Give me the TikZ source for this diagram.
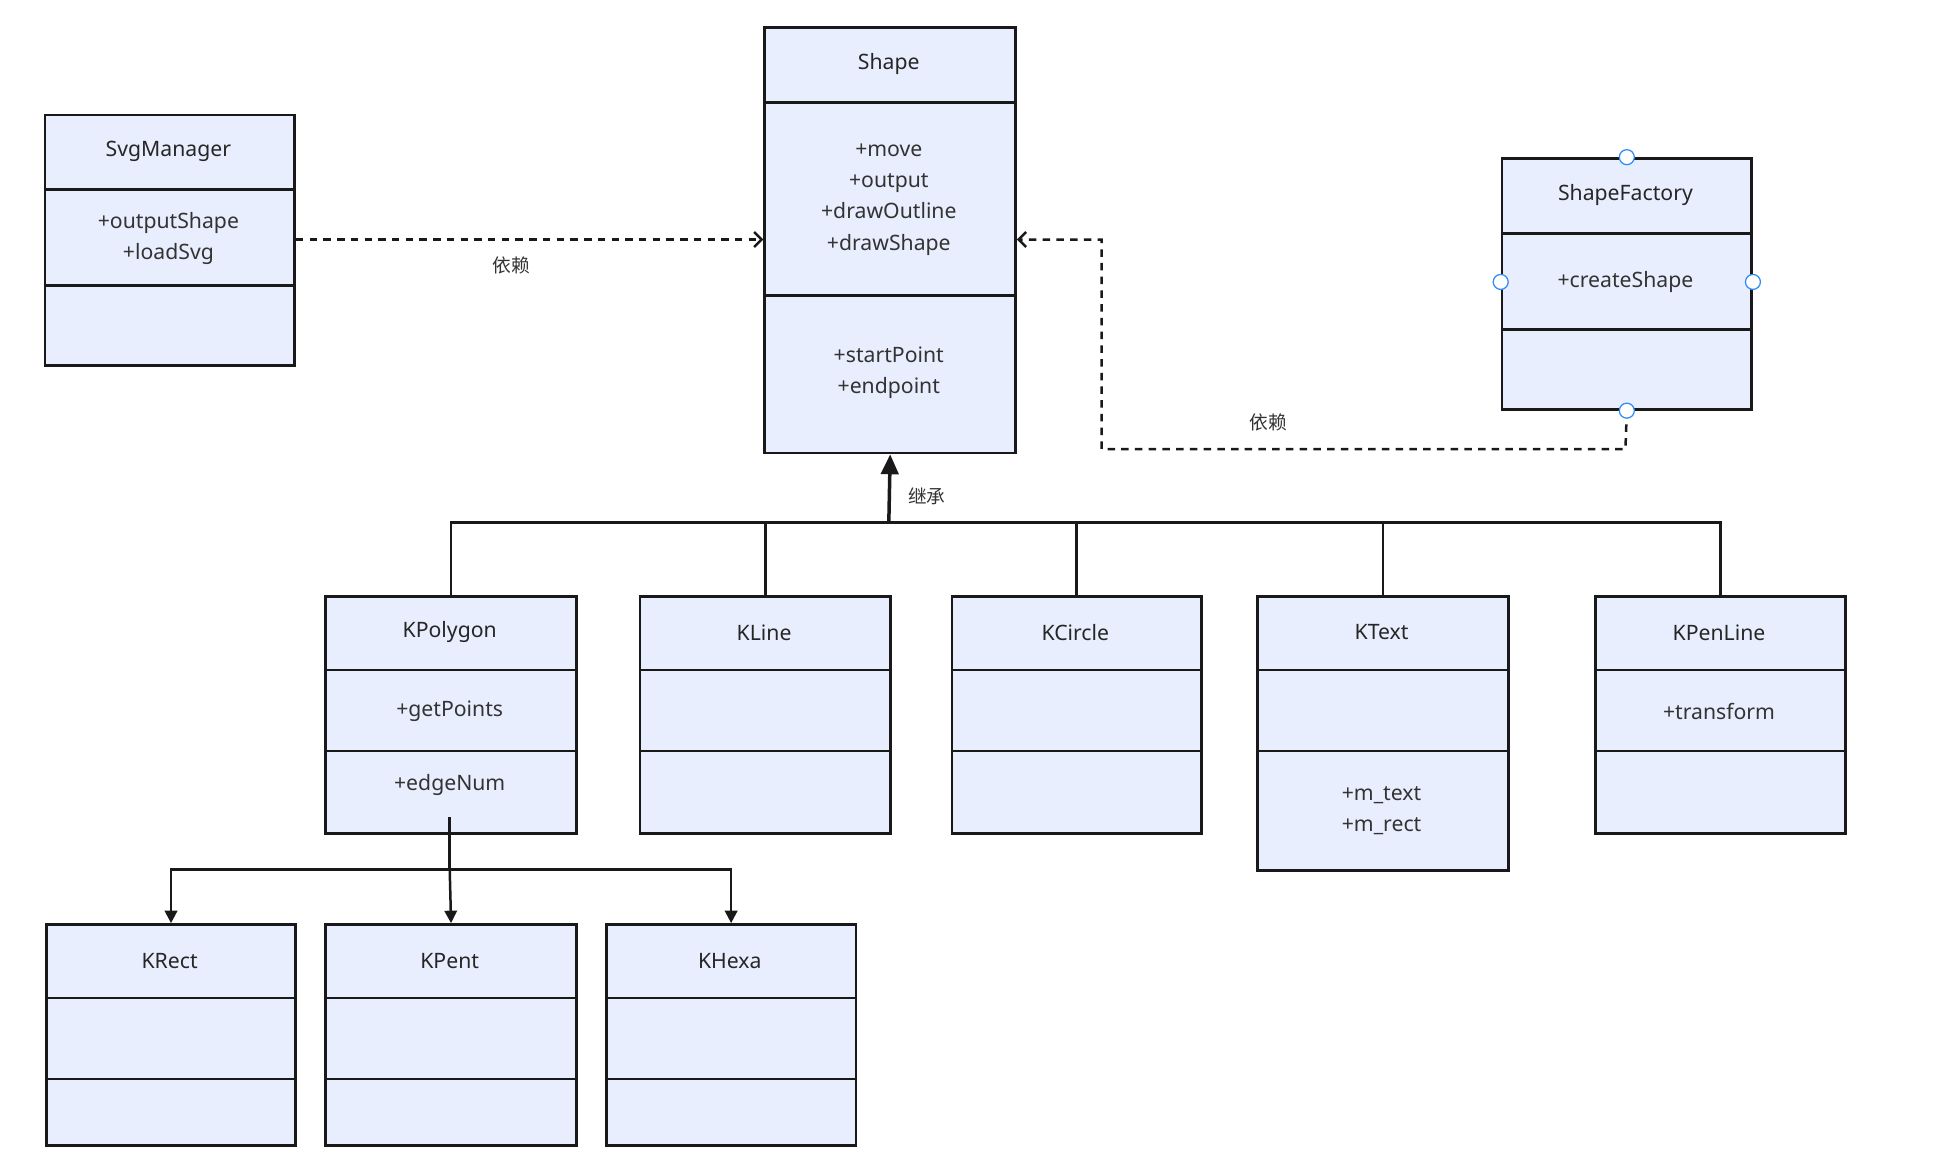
\documentclass[tikz,border=0pt]{standalone}
\usepackage{fontspec}
\setmainfont{Noto Sans}
\newfontfamily\cjk{Noto Sans CJK SC}
\usetikzlibrary{arrows.meta}
\definecolor{boxfill}{HTML}{E8EEFD}
\definecolor{txt}{HTML}{333333}
\definecolor{hdl}{HTML}{2F8CF7}
\tikzset{
  umlbox/.style={draw=black!90,line width=1.1pt,fill=boxfill,inner sep=0pt,anchor=north west},
  divider/.style={draw=black!90,line width=1.1pt},
  ttl/.style={font=\fontsize{8.5pt}{10pt}\selectfont\bfseries,text=black!85},
  mem/.style={font=\fontsize{8.5pt}{12.5pt}\selectfont,text=txt,align=center},
  lbl/.style={font=\cjk\fontsize{7.5pt}{9pt}\selectfont,text=txt},
  conn/.style={line width=1pt,draw=black!90},
  dep/.style={line width=1pt,draw=black!90,dash pattern=on 3pt off 2.5pt,-{Straight Barb[length=3pt,width=6pt]}},
  handle/.style={circle,draw=hdl,fill=white,line width=0.5pt,minimum size=6pt,inner sep=0pt}
}
% \umlb{name}{x1}{x2}{y1}{y2}{d1}{d2}{title}
\newcommand{\umlb}[8]{%
  \pgfmathsetlengthmacro{\bw}{(#3-#2)*0.5pt}%
  \pgfmathsetlengthmacro{\bh}{(#5-#4)*0.5pt}%
  \node[umlbox,minimum width=\bw,minimum height=\bh] (#1) at (#2,#4) {};
  \draw[divider] (#2,#6) -- (#3,#6);
  \draw[divider] (#2,#7) -- (#3,#7);
  \node[ttl] (#1t) at ({(#2+#3)/2},{(#4+#6)/2}) {#8};
}
\begin{document}
\begin{tikzpicture}[x=0.5pt,y=-0.5pt]
\useasboundingbox (0,0) rectangle (1568,933);
\umlb{shape}{612}{813}{21}{362}{82}{237}{Shape}
\node[mem] (shm) at (712.5,160) {+move\\+output\\+drawOutline\\+drawShape};
\node[mem] (sha) at (712.5,299) {+startPoint\\+endpoint};
\umlb{svg}{35}{235}{91}{292}{152}{229}{SvgManager}
\node[mem] (svgm) at (135,191) {+outputShape\\+loadSvg};
\umlb{fac}{1203}{1403}{126}{327}{187}{264}{ShapeFactory}
\node[mem] (facm) at (1303,226) {+createShape};
\umlb{kpoly}{260}{461}{477}{667}{537}{602}{KPolygon}
\node[mem] (kpm) at (360.5,570) {+getPoints};
\node[mem,font=\fontsize{8.5pt}{10pt}\selectfont\bfseries] (kpa) at (360.5,629) {+edgeNum};
\umlb{kline}{512}{713}{477}{667}{537}{602}{KLine}
\umlb{kcirc}{762}{962}{477}{667}{537}{602}{KCircle}
\umlb{ktext}{1007}{1208}{477}{697}{537}{602}{KText}
\node[mem] (kta) at (1107.5,650) {+m\_text\\+m\_rect};
\umlb{kpen}{1278}{1478}{477}{667}{537}{602}{KPenLine}
\node[mem] (kpnm) at (1378,570) {+transform};
\umlb{krect}{36}{236}{740}{917}{800}{865}{KRect}
\umlb{kpent}{260}{461}{740}{917}{800}{865}{KPent}
\umlb{khexa}{485}{685}{740}{917}{800}{865}{KHexa}
% inheritance
\coordinate (bus) at (712.5,419);
\draw[conn] (kpoly.north) |- (kpen.north |- bus) -- (kpen.north);
\draw[conn] (kline.north) -- (kline.north |- bus);
\draw[conn] (kcirc.north) -- (kcirc.north |- bus);
\draw[conn] (ktext.north) -- (ktext.north |- bus);
\draw[conn,line width=1.4pt,-{Triangle[length=8pt,width=7pt]}] (bus) -- (shape.south);
\node[lbl] (inh) at (743,398) {继承};
% polygon children
\coordinate (pb) at (360.5,697);
\draw[conn] (360.5,655) -- (pb);
\draw[conn,-{Triangle[length=5pt,width=5pt]}] (pb) -| (krect.north);
\draw[conn,-{Triangle[length=5pt,width=5pt]}] (pb) -- (kpent.north);
\draw[conn,-{Triangle[length=5pt,width=5pt]}] (pb) -| (khexa.north);
% dependencies
\draw[dep] (svg.east |- 0,192) -- (shape.west |- 0,192);
\node[lbl] (d1) at (410,213) {依赖};
\draw[dep] (fac.south) -- (1303,360) -| (883,192) -- (shape.east |- 0,192);
\node[lbl] (d2) at (1017,339) {依赖};
\node[handle] (h1) at (fac.north) {};
\node[handle] (h2) at (fac.south) {};
\node[handle] (h3) at (fac.west |- 0,226) {};
\node[handle] (h4) at (fac.east |- 0,226) {};
\end{tikzpicture}
\end{document}
